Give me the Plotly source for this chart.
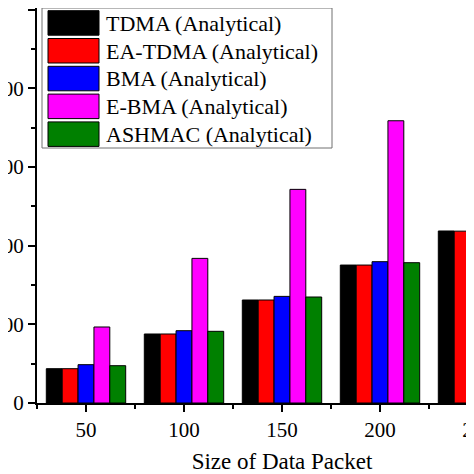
import plotly.graph_objects as go

# Data
packet_size = [50, 100, 150, 200, 250]

tdma = [43.6, 87.7, 130.9, 175.3, 218.6]
ea_tdma = [43.6, 87.7, 130.9, 175.3, 218.4]
bma = [48.7, 91.9, 135.5, 179.6, 223.2]
e_bma = [96.6, 183.8, 271.5, 358.7, 446.0]
ashmac = [47.4, 91.1, 134.7, 178.3, 222.0]

series_names = ["TDMA (Analytical)", "EA-TDMA (Analytical)", "BMA (Analytical)",
                "E-BMA (Analytical)", "ASHMAC (Analytical)"]
series_colors = ["#000000", "#FF0000", "#0000FF", "#FF00FF", "#008000"]

font_name = "Liberation Serif"

fig = go.Figure()
for name, vals, col in zip(series_names, [tdma, ea_tdma, bma, e_bma, ashmac], series_colors):
    fig.add_trace(go.Bar(
        x=packet_size, y=vals, name=name,
        marker=dict(color=col, line=dict(color="black", width=1)),
    ))

# plot area is 490 x 395 px; helpers to place the legend box in pixels
def px(x):
    return x / 490.0

def py(y):
    return 1.0 - y / 395.0

# legend drawn by hand so the colour swatches are big like the original
shapes = [dict(type="rect", xref="paper", yref="paper",
               x0=px(5), x1=px(295), y0=py(140), y1=py(0),
               line=dict(color="#707070", width=1), fillcolor="white", layer="above")]
annotations = []
for i, (name, col) in enumerate(zip(series_names, series_colors)):
    top = 2.7 + 27.8 * i
    shapes.append(dict(type="rect", xref="paper", yref="paper",
                       x0=px(11), x1=px(62), y0=py(top + 24.5), y1=py(top),
                       line=dict(color="black", width=1), fillcolor=col, layer="above"))
    annotations.append(dict(text=name, xref="paper", yref="paper",
                            x=px(67), y=py(top + 12.5), xanchor="left", yanchor="middle",
                            showarrow=False, font=dict(family=font_name, size=22, color="black")))

fig.update_layout(
    width=532, height=466,
    margin=dict(l=29, r=13, t=0, b=71),
    barmode="group", bargap=0.19, bargroupgap=0,
    plot_bgcolor="white", paper_bgcolor="white",
    font=dict(family=font_name, size=21, color="black"),
    showlegend=False,
    shapes=shapes,
    annotations=annotations,
)

fig.update_xaxes(
    range=[25, 275], tickvals=packet_size, automargin=False,
    showline=True, linecolor="black", linewidth=2,
    ticks="outside", ticklen=7, tickwidth=1.5, tickcolor="black",
    minor=dict(tickvals=[25, 75, 125, 175, 225, 275], ticks="outside",
               ticklen=4, tickwidth=1.5, tickcolor="black"),
    showgrid=False, zeroline=False,
    title=dict(text="Size of Data Packet", font=dict(size=23), standoff=18),
)
fig.update_yaxes(
    range=[0, 502], dtick=100, tick0=0, automargin=False,
    showline=True, linecolor="black", linewidth=2,
    ticks="outside", ticklen=7, tickwidth=1.5, tickcolor="black",
    minor=dict(dtick=50, ticks="outside", ticklen=4, tickwidth=1.5, tickcolor="black"),
    showgrid=False, zeroline=False,
)

fig.write_html("out.html")
